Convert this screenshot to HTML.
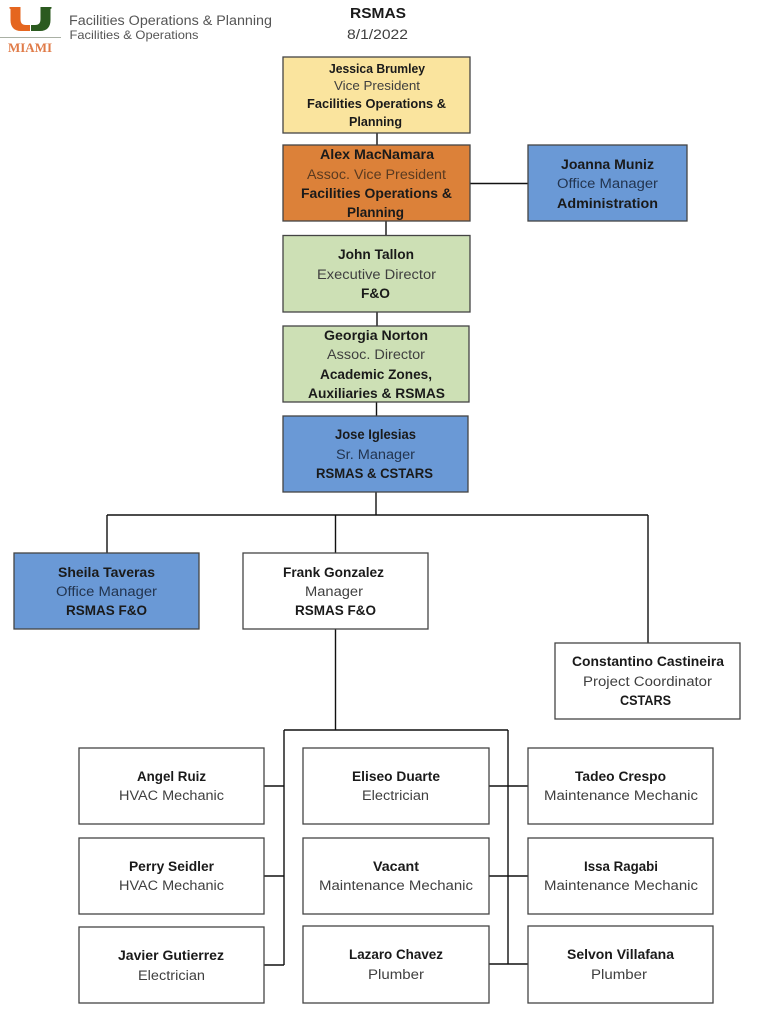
<!DOCTYPE html>
<html><head><meta charset="utf-8"><style>
html,body{margin:0;padding:0;background:#fff}
svg{display:block}
text{font-family:"Liberation Sans",sans-serif;font-size:13.500px;text-anchor:middle;fill:#3f3f3f}
.b{font-weight:bold;fill:#1a1a1a}
.box{stroke:#444;stroke-width:1.3}
.l{stroke:#111;stroke-width:1.4;fill:none}
</style></head><body>
<svg width="771" height="1015" viewBox="0 0 771 1015" xmlns="http://www.w3.org/2000/svg">
<rect width="771" height="1015" fill="#fff"/>
<!-- logo -->
<path d="M9.500 7H20.500V19C20.500 23 22 25 26 25H30V31H21C14 31 10.500 27 10.500 20V9L9.500 8.500Z" fill="#e5661f"/>
<path d="M51.500 7H40.500V19C40.500 23 39 25 35 25H31V31H40C47 31 50.500 27 50.500 20V9L51.500 8.500Z" fill="#2b5a1f"/>
<rect x="0" y="37" width="61" height="1" fill="#a9b0a4"/>
<text x="30" y="52" textLength="44" lengthAdjust="spacingAndGlyphs" style="font-family:'Liberation Serif',serif;font-size:13px;font-weight:bold;fill:#e07b48">MIAMI</text>
<text x="170.500" y="25" textLength="203" lengthAdjust="spacingAndGlyphs" style="font-size:13.500px;fill:#555">Facilities Operations &amp; Planning</text>
<text x="134" y="39" textLength="129" lengthAdjust="spacingAndGlyphs" style="font-size:12px;fill:#555">Facilities &amp; Operations</text>
<text x="378" y="18" textLength="56" lengthAdjust="spacingAndGlyphs" class="b" style="font-size:15px">RSMAS</text>
<text x="377.500" y="39" textLength="61" lengthAdjust="spacingAndGlyphs">8/1/2022</text>
<!-- connectors -->
<path class="l" d="M377 133V145M386 221V235M470 183.500H528M377 312V326M376.500 402V416M376 492V515M107 515H648M107 515V553M335.500 515V553M648 515V643M335.500 629V730M284 730H508M284 730V965M264 786H284M264 876H284M264 965H284M508 730V964M489 786H528M489 876H528M489 964H528"/>
<!-- boxes -->
<rect class="box" x="283" y="57" width="187" height="76" fill="#fae49e"/>
<rect class="box" x="283" y="145" width="187" height="76" fill="#dc8139"/>
<rect class="box" x="528" y="145" width="159" height="76" fill="#6a99d6"/>
<rect class="box" x="283" y="235.500" width="187" height="76.500" fill="#cde0b5"/>
<rect class="box" x="283" y="326" width="186" height="76" fill="#cde0b5"/>
<rect class="box" x="283" y="416" width="185" height="76" fill="#6a99d6"/>
<rect class="box" x="14" y="553" width="185" height="76" fill="#6a99d6"/>
<rect class="box" x="243" y="553" width="185" height="76" fill="#fff"/>
<rect class="box" x="555" y="643" width="185" height="76" fill="#fff"/>
<rect class="box" x="79" y="748" width="185" height="76" fill="#fff"/>
<rect class="box" x="303" y="748" width="186" height="76" fill="#fff"/>
<rect class="box" x="528" y="748" width="185" height="76" fill="#fff"/>
<rect class="box" x="79" y="838" width="185" height="76" fill="#fff"/>
<rect class="box" x="303" y="838" width="186" height="76" fill="#fff"/>
<rect class="box" x="528" y="838" width="185" height="76" fill="#fff"/>
<rect class="box" x="79" y="927" width="185" height="76" fill="#fff"/>
<rect class="box" x="303" y="926" width="186" height="77" fill="#fff"/>
<rect class="box" x="528" y="926" width="185" height="77" fill="#fff"/>
<!-- labels -->
<g>
<text class="b" x="377" y="73" textLength="96" lengthAdjust="spacingAndGlyphs" style="font-size:13px">Jessica Brumley</text>
<text x="377" y="90" textLength="86" lengthAdjust="spacingAndGlyphs" style="font-size:13px">Vice President</text>
<text class="b" x="376.500" y="108" textLength="139" lengthAdjust="spacingAndGlyphs" style="font-size:13px">Facilities Operations &amp;</text>
<text class="b" x="375.500" y="126" textLength="53" lengthAdjust="spacingAndGlyphs" style="font-size:13px">Planning</text>

<text class="b" x="377" y="159" textLength="114" lengthAdjust="spacingAndGlyphs">Alex MacNamara</text>
<text x="376.500" y="179" textLength="139" lengthAdjust="spacingAndGlyphs" style="fill:#5a3a20">Assoc. Vice President</text>
<text class="b" x="376.500" y="198" textLength="151" lengthAdjust="spacingAndGlyphs">Facilities Operations &amp;</text>
<text class="b" x="375.500" y="217" textLength="57" lengthAdjust="spacingAndGlyphs">Planning</text>

<text class="b" x="607.500" y="169" textLength="93" lengthAdjust="spacingAndGlyphs">Joanna Muniz</text>
<text x="607.500" y="188" textLength="101" lengthAdjust="spacingAndGlyphs" style="fill:#22344f">Office Manager</text>
<text class="b" x="607.500" y="208" textLength="101" lengthAdjust="spacingAndGlyphs">Administration</text>

<text class="b" x="376" y="259" textLength="76" lengthAdjust="spacingAndGlyphs">John Tallon</text>
<text x="376.500" y="279" textLength="119" lengthAdjust="spacingAndGlyphs">Executive Director</text>
<text class="b" x="375.500" y="298" textLength="29" lengthAdjust="spacingAndGlyphs">F&amp;O</text>

<text class="b" x="376" y="340" textLength="104" lengthAdjust="spacingAndGlyphs">Georgia Norton</text>
<text x="376" y="359" textLength="98" lengthAdjust="spacingAndGlyphs">Assoc. Director</text>
<text class="b" x="376" y="379" textLength="112" lengthAdjust="spacingAndGlyphs">Academic Zones,</text>
<text class="b" x="376.500" y="398" textLength="137" lengthAdjust="spacingAndGlyphs">Auxiliaries &amp; RSMAS</text>

<text class="b" x="375.500" y="439" textLength="81" lengthAdjust="spacingAndGlyphs">Jose Iglesias</text>
<text x="375.500" y="459" textLength="79" lengthAdjust="spacingAndGlyphs" style="fill:#22344f">Sr. Manager</text>
<text class="b" x="374.500" y="478" textLength="117" lengthAdjust="spacingAndGlyphs">RSMAS &amp; CSTARS</text>

<text class="b" x="106.500" y="577" textLength="97" lengthAdjust="spacingAndGlyphs">Sheila Taveras</text>
<text x="106.500" y="596" textLength="101" lengthAdjust="spacingAndGlyphs" style="fill:#22344f">Office Manager</text>
<text class="b" x="106.500" y="615" textLength="81" lengthAdjust="spacingAndGlyphs">RSMAS F&amp;O</text>

<text class="b" x="333.500" y="577" textLength="101" lengthAdjust="spacingAndGlyphs">Frank Gonzalez</text>
<text x="334" y="596" textLength="58" lengthAdjust="spacingAndGlyphs">Manager</text>
<text class="b" x="335.500" y="615" textLength="81" lengthAdjust="spacingAndGlyphs">RSMAS F&amp;O</text>

<text class="b" x="648" y="666" textLength="152" lengthAdjust="spacingAndGlyphs">Constantino Castineira</text>
<text x="647.500" y="686" textLength="129" lengthAdjust="spacingAndGlyphs">Project Coordinator</text>
<text class="b" x="645.500" y="705" textLength="51" lengthAdjust="spacingAndGlyphs">CSTARS</text>

<text class="b" x="171.500" y="781" textLength="69" lengthAdjust="spacingAndGlyphs">Angel Ruiz</text>
<text x="171.500" y="800" textLength="105" lengthAdjust="spacingAndGlyphs">HVAC Mechanic</text>
<text class="b" x="171.500" y="871" textLength="85" lengthAdjust="spacingAndGlyphs">Perry Seidler</text>
<text x="171.500" y="890" textLength="105" lengthAdjust="spacingAndGlyphs">HVAC Mechanic</text>
<text class="b" x="171" y="960" textLength="106" lengthAdjust="spacingAndGlyphs">Javier Gutierrez</text>
<text x="171.500" y="980" textLength="67" lengthAdjust="spacingAndGlyphs">Electrician</text>

<text class="b" x="396" y="781" textLength="88" lengthAdjust="spacingAndGlyphs">Eliseo Duarte</text>
<text x="395.500" y="800" textLength="67" lengthAdjust="spacingAndGlyphs">Electrician</text>
<text class="b" x="396" y="871" textLength="46" lengthAdjust="spacingAndGlyphs">Vacant</text>
<text x="396" y="890" textLength="154" lengthAdjust="spacingAndGlyphs">Maintenance Mechanic</text>
<text class="b" x="396" y="959" textLength="94" lengthAdjust="spacingAndGlyphs">Lazaro Chavez</text>
<text x="396" y="979" textLength="56" lengthAdjust="spacingAndGlyphs">Plumber</text>

<text class="b" x="620.500" y="781" textLength="91" lengthAdjust="spacingAndGlyphs">Tadeo Crespo</text>
<text x="621" y="800" textLength="154" lengthAdjust="spacingAndGlyphs">Maintenance Mechanic</text>
<text class="b" x="621" y="871" textLength="74" lengthAdjust="spacingAndGlyphs">Issa Ragabi</text>
<text x="621" y="890" textLength="154" lengthAdjust="spacingAndGlyphs">Maintenance Mechanic</text>
<text class="b" x="620.500" y="959" textLength="107" lengthAdjust="spacingAndGlyphs">Selvon Villafana</text>
<text x="619" y="979" textLength="56" lengthAdjust="spacingAndGlyphs">Plumber</text>
</g>
</svg>
</body></html>
